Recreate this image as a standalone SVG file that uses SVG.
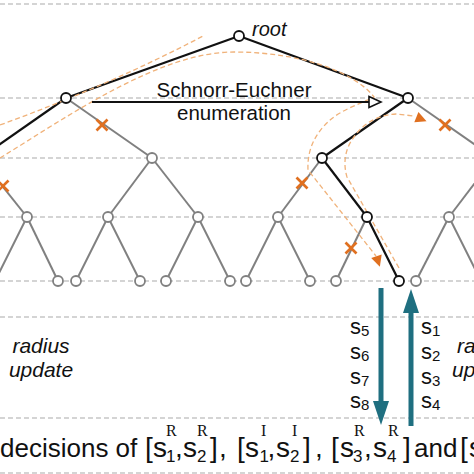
<svg xmlns="http://www.w3.org/2000/svg" width="474" height="474" viewBox="0 0 474 474">
<defs>
<style>
.grid{stroke:#aaaaaa;stroke-width:1.2;stroke-dasharray:5 3;fill:none}
.ge{stroke:#808080;stroke-width:2;fill:none}
.be{stroke:#111;stroke-width:2.2;fill:none}
.gn{fill:#fff;stroke:#808080;stroke-width:1.8}
.bn{fill:#fff;stroke:#111;stroke-width:1.8}
.x{stroke:#e07020;stroke-width:2.6;fill:none}
.od{stroke:#f0b27a;stroke-width:1.3;stroke-dasharray:5 3;fill:none}
.oa{fill:#e07020}
.teal{stroke:#1f6f80;stroke-width:5;fill:none}
.th{fill:#1f6f80}
.t{font-family:"Liberation Sans",Arial,sans-serif;fill:#111}
.it{font-family:"Liberation Sans",Arial,sans-serif;font-style:italic;fill:#111}
.sr{font-family:"Liberation Serif","Times New Roman",serif;fill:#111}
</style>
<path id="oh" d="M6,0 L-5,-5.5 L-5,5.5 Z"/>
<g id="xm"><line x1="-5.5" y1="-5.5" x2="5.5" y2="5.5"/><line x1="-5.5" y1="5.5" x2="5.5" y2="-5.5"/></g>
</defs>
<rect width="474" height="474" fill="#fff"/>
<g id="grid">
<line class="grid" x1="0" y1="4" x2="474" y2="4"/>
<line class="grid" x1="0" y1="98" x2="474" y2="98"/>
<line class="grid" x1="0" y1="158" x2="474" y2="158"/>
<line class="grid" x1="0" y1="217" x2="474" y2="217"/>
<line class="grid" x1="0" y1="281" x2="474" y2="281"/>
<line class="grid" x1="0" y1="317" x2="474" y2="317"/>
<line class="grid" x1="0" y1="418" x2="474" y2="418"/>
<line class="grid" x1="0" y1="473" x2="474" y2="473"/>
</g>
<g id="connectors">
<g id="gray-edges">
<line class="ge" x1="66" y1="98" x2="152" y2="158"/>
<line class="ge" x1="152" y1="158" x2="108" y2="217"/>
<line class="ge" x1="152" y1="158" x2="198" y2="217"/>
<line class="ge" x1="108" y1="217" x2="76" y2="281"/>
<line class="ge" x1="108" y1="217" x2="140" y2="281"/>
<line class="ge" x1="198" y1="217" x2="166" y2="281"/>
<line class="ge" x1="198" y1="217" x2="230" y2="281"/>
<line class="ge" x1="-20" y1="158" x2="27" y2="217"/>
<line class="ge" x1="27" y1="217" x2="58" y2="281"/>
<line class="ge" x1="27" y1="217" x2="-5" y2="281"/>
<line class="ge" x1="408" y1="98" x2="494" y2="158"/>
<line class="ge" x1="322" y1="158" x2="278" y2="217"/>
<line class="ge" x1="278" y1="217" x2="246" y2="281"/>
<line class="ge" x1="278" y1="217" x2="310" y2="281"/>
<line class="ge" x1="367" y1="217" x2="336" y2="281"/>
<line class="ge" x1="494" y1="158" x2="449" y2="217"/>
<line class="ge" x1="449" y1="217" x2="416" y2="281"/>
<line class="ge" x1="449" y1="217" x2="481" y2="281"/>
</g>
<g id="black-edges">
<line class="be" x1="239" y1="36" x2="66" y2="98"/>
<line class="be" x1="239" y1="36" x2="408" y2="98"/>
<line class="be" x1="66" y1="98" x2="-20" y2="158"/>
<line class="be" x1="408" y1="98" x2="322" y2="158"/>
<line class="be" x1="322" y1="158" x2="367" y2="217"/>
<line class="be" x1="367" y1="217" x2="399" y2="281"/>
</g>
<g id="search-path">
<path class="od" d="M0,125 Q110,85 205,35"/>
<path class="od" d="M0,158 C70,115 160,52 234,52 C300,52 355,72 374,97 C360,104 340,110 328,122 C315,134 307,150 308,170 L376,256"/>
<path class="od" d="M399,268 L347,177 C343,164 345,150 352,140 C361,125 376,115 396,114 L414,116"/>
<use href="#oh" class="oa" transform="translate(421,119) rotate(22)"/>
<use href="#oh" class="oa" transform="translate(378,261) rotate(72)"/>
</g>
<g id="prunes" class="x">
<use href="#xm" transform="translate(102,125)"/>
<use href="#xm" transform="translate(3,186)"/>
<use href="#xm" transform="translate(445,125)"/>
<use href="#xm" transform="translate(302,183)"/>
<use href="#xm" transform="translate(351,248)"/>
</g>
<g id="se-arrow">
<line x1="92" y1="102" x2="369" y2="102" stroke="#111" stroke-width="1.8"/>
<path d="M369,96.5 L381,102 L369,107.5 Z" fill="#fff" stroke="#111" stroke-width="1.6"/>
</g>
<g id="teal-arrows">
<line class="teal" x1="381" y1="288" x2="381" y2="405"/>
<path class="th" d="M373,401 L389,401 L381,425 Z"/>
<line class="teal" x1="411" y1="426" x2="411" y2="309"/>
<path class="th" d="M403,313 L419,313 L411,289 Z"/>
</g>
</g>
<g id="nodes">
<g id="n-root"><circle class="bn" cx="239" cy="36" r="5"/></g>
<g id="n-l1a"><circle class="bn" cx="66" cy="98" r="5"/></g>
<g id="n-l1b"><circle class="bn" cx="408" cy="98" r="5"/></g>
<g id="n-l2a"><circle class="gn" cx="152" cy="158" r="5"/></g>
<g id="n-l2b"><circle class="bn" cx="322" cy="158" r="5"/></g>
<g id="n-l3a"><circle class="gn" cx="27" cy="217" r="5"/></g>
<g id="n-l3b"><circle class="gn" cx="108" cy="217" r="5"/></g>
<g id="n-l3c"><circle class="gn" cx="198" cy="217" r="5"/></g>
<g id="n-l3d"><circle class="gn" cx="278" cy="217" r="5"/></g>
<g id="n-l3e"><circle class="bn" cx="367" cy="217" r="5"/></g>
<g id="n-l3f"><circle class="gn" cx="449" cy="217" r="5"/></g>
<g id="n-leaf1"><circle class="gn" cx="58" cy="281" r="5"/></g>
<g id="n-leaf2"><circle class="gn" cx="76" cy="281" r="5"/></g>
<g id="n-leaf3"><circle class="gn" cx="140" cy="281" r="5"/></g>
<g id="n-leaf4"><circle class="gn" cx="166" cy="281" r="5"/></g>
<g id="n-leaf5"><circle class="gn" cx="230" cy="281" r="5"/></g>
<g id="n-leaf6"><circle class="gn" cx="246" cy="281" r="5"/></g>
<g id="n-leaf7"><circle class="gn" cx="310" cy="281" r="5"/></g>
<g id="n-leaf8"><circle class="gn" cx="336" cy="281" r="5"/></g>
<g id="n-leaf9"><circle class="bn" cx="399" cy="281" r="5"/></g>
<g id="n-leaf10"><circle class="gn" cx="416" cy="281" r="5"/></g>
</g>
<g id="labels">
<text class="it" x="252" y="36" font-size="20">root</text>
<text class="t" x="234" y="97" font-size="20.5" text-anchor="middle">Schnorr-Euchner</text>
<text class="t" x="234" y="120" font-size="20.5" text-anchor="middle">enumeration</text>
<text class="it" x="41" y="353" font-size="21" text-anchor="middle">radius</text>
<text class="it" x="41" y="377" font-size="21" text-anchor="middle">update</text>
<text class="it" x="457" y="353" font-size="21">radius</text>
<text class="it" x="452" y="377" font-size="21">update</text>
<g class="t" font-size="22">
<text x="350" y="334">s<tspan font-size="15" dy="2">5</tspan></text>
<text x="350" y="359">s<tspan font-size="15" dy="2">6</tspan></text>
<text x="350" y="384">s<tspan font-size="15" dy="2">7</tspan></text>
<text x="350" y="408">s<tspan font-size="15" dy="2">8</tspan></text>
<text x="421" y="334">s<tspan font-size="15" dy="2">1</tspan></text>
<text x="421" y="359">s<tspan font-size="15" dy="2">2</tspan></text>
<text x="421" y="384">s<tspan font-size="15" dy="2">3</tspan></text>
<text x="421" y="408">s<tspan font-size="15" dy="2">4</tspan></text>
</g>
<text class="t" x="0" y="457" font-size="26">decisions of</text>
<g class="t" font-size="28">
<text x="145" y="457">[</text><text x="153" y="457">s</text><text x="175" y="457">,</text><text x="183" y="457">s</text><text x="210" y="457">]</text><text x="219" y="457">,</text>
<text x="237" y="457">[</text><text x="245" y="457">s</text><text x="267.5" y="457">,</text><text x="276" y="457">s</text><text x="303" y="457">]</text><text x="315" y="457">,</text>
<text x="331" y="457">[</text><text x="340" y="457">s</text><text x="364" y="457">,</text><text x="373" y="457">s</text><text x="403" y="457">]</text>
<text x="460" y="457">[</text><text x="469" y="457">s</text>
</g>
<text class="t" x="414" y="457" font-size="26">and</text>
<g class="t" font-size="17">
<text x="166" y="462">1</text><text x="197" y="462">2</text>
<text x="259.5" y="462">1</text><text x="290" y="462">2</text>
<text x="353" y="462">3</text><text x="387" y="462">4</text>
</g>
<g class="sr" font-size="16">
<text x="166" y="436">R</text><text x="197" y="436">R</text>
<text x="261" y="436">I</text><text x="292" y="436">I</text>
<text x="354" y="436">R</text><text x="388" y="436">R</text>
</g>
</g>
</svg>
